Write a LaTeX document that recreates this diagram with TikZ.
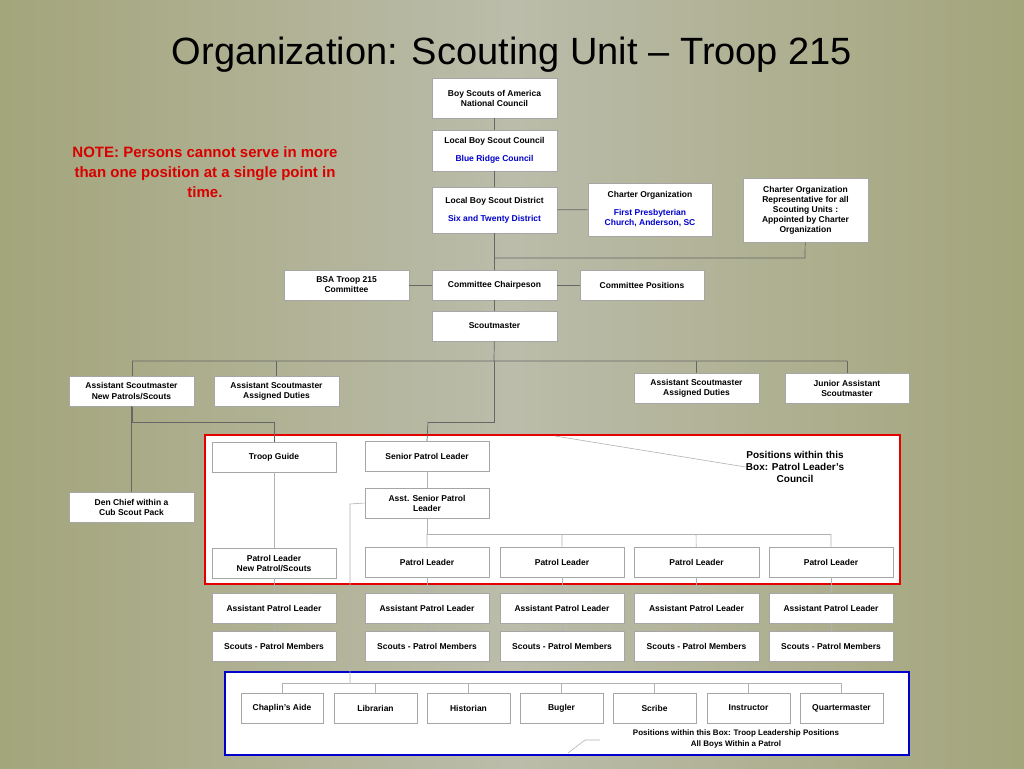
\documentclass[tikz,border=0pt]{standalone}
\usepackage{fontspec}
\setmainfont{Liberation Sans}
\begin{document}
\begin{tikzpicture}[x=1pt,y=-1pt,
  bx/.style={draw=gray!70,fill=white,line width=0.6pt,font=\fontsize{8.5}{10}\selectfont\bfseries,align=center,inner sep=0pt},
  ln/.style={draw=black!60,line width=0.7pt},
  lnw/.style={draw=gray!60,line width=0.6pt}]
\definecolor{olive1}{HTML}{A3A57B}
\definecolor{olive2}{HTML}{BBBCAA}
\definecolor{blu}{HTML}{0000CC}
\useasboundingbox (0,0) rectangle (1024,768);
\shade[left color=olive1,right color=olive1,middle color=olive2] (0,0) rectangle (1024,768);
\node[font=\fontsize{38}{44}\selectfont] (title) at (512,55) {Organization: Scouting Unit -- Troop 215};
\node[text=red!85!black,font=\fontsize{15}{20}\selectfont\bfseries,align=center] (note) at (205,172) {NOTE: Persons cannot serve in more\\than one position at a single point in\\time.};
\newcommand{\bb}[6]{\node[bx,minimum width=#4-#2,minimum height=#5-#3] (#1) at ({(#2+#4)/2},{(#3+#5)/2}) {#6};}
\coordinate (a1) at (494,258); \coordinate (a2) at (805,258);
\coordinate (s1) at (494,361); \coordinate (s2) at (132,361); \coordinate (s3) at (847,361);
\coordinate (s4) at (276,361); \coordinate (s5) at (696,361);
\coordinate (g1) at (494,422); \coordinate (g2) at (428,422);
\coordinate (h1) at (132,422); \coordinate (h2) at (274,422);
\coordinate (p1) at (427,534); \coordinate (p2) at (831,534);
\coordinate (p3) at (562,534); \coordinate (p4) at (696,534);
\coordinate (q0) at (350,504); \coordinate (q1) at (350,683);
\coordinate (t1) at (282,683); \coordinate (t2) at (841,683);
\bb{nat}{432}{78}{557}{118}{Boy Scouts of America\\National Council}
\bb{cou}{432}{130}{557}{171}{Local Boy Scout Council\\[8pt]\textcolor{blu}{Blue Ridge Council}}
\bb{dis}{432}{187}{557}{233}{Local Boy Scout District\\[8pt]\textcolor{blu}{Six and Twenty District}}
\bb{cho}{588}{183}{712}{236}{Charter Organization\\[8pt]\textcolor{blu}{First Presbyterian}\\\textcolor{blu}{Church, Anderson, SC}}
\bb{cor}{743}{178}{868}{242}{Charter Organization\\Representative for all\\Scouting Units :\\Appointed by Charter\\Organization}
\bb{com}{284}{270}{409}{300}{BSA Troop 215\\Committee}
\bb{chr}{432}{270}{557}{300}{Committee Chairpeson}
\bb{cpo}{580}{270}{704}{300}{Committee Positions}
\bb{sm}{432}{311}{557}{341}{Scoutmaster}
\draw[ln] (nat) -- (cou) (cou) -- (dis) (dis) -- (chr) (chr) -- (sm);
\draw[ln] (dis) -- (cho);
\draw[ln] (cor) -- (a2) -- (a1);
\draw[ln] (com) -- (chr) -- (cpo);
\draw[ln] (sm) -- (s1) (s2) -- (s3);
\draw[ln] (s1) -- (g1) -- (g2);
\draw[ln] (s2) -- (h1) -- (h2);
\draw[ln] (s5) -- (696,373) (s3) -- (847,373) (s4) -- (276,376);
\node[draw=red!90!black,line width=1.2pt,fill=white,minimum width=695,minimum height=149,inner sep=0pt] (redbox) at (552.5,509.5) {};
\node[bx,draw=none,fill=none,font=\fontsize{10}{12}\selectfont\bfseries] (plc) at (795,467) {Positions within this\\Box: Patrol Leader's\\Council};
\coordinate (rc) at (555,436);
\draw[lnw] (rc) -- (plc.west);
\node[draw=blu,line width=1.2pt,fill=white,minimum width=684,minimum height=83,inner sep=0pt] (bluebox) at (567,713.5) {};
\node[bx,draw=none,fill=none,font=\fontsize{8}{11}\selectfont\bfseries] (tlp) at (736,739) {Positions within this Box: Troop Leadership Positions\\All Boys Within a Patrol};
\coordinate (bc1) at (568,753); \coordinate (bc2) at (585,740); \coordinate (bc3) at (600,740);
\draw[lnw] (bc1) -- (bc2) -- (bc3);
\bb{asm1}{69}{376}{194}{406}{Assistant Scoutmaster\\New Patrols/Scouts}
\bb{asm2}{214}{376}{339}{406}{Assistant Scoutmaster\\Assigned Duties}
\bb{asm3}{634}{373}{759}{403}{Assistant Scoutmaster\\Assigned Duties}
\bb{jasm}{785}{373}{909}{403}{Junior Assistant\\Scoutmaster}
\bb{den}{69}{492}{194}{522}{Den Chief within a\\Cub Scout Pack}
\draw[ln] (asm1) -- (den);
\draw[ln] (h2) -- (274,442);
\draw[ln] (g2) -- (427,441);
\bb{tg}{212}{442}{336}{472}{Troop Guide}
\bb{spl}{365}{441}{489}{471}{Senior Patrol Leader}
\bb{aspl}{365}{488}{489}{518}{Asst. Senior Patrol\\Leader}
\bb{pl0}{212}{548}{336}{578}{Patrol Leader\\New Patrol/Scouts}
\bb{pl1}{365}{547}{489}{577}{Patrol Leader}
\bb{pl2}{500}{547}{624}{577}{Patrol Leader}
\bb{pl3}{634}{547}{759}{577}{Patrol Leader}
\bb{pl4}{769}{547}{893}{577}{Patrol Leader}
\foreach \i/\a/\b in {0/212/336,1/365/489,2/500/624,3/634/759,4/769/893}{
  \bb{apl\i}{\a}{593}{\b}{623}{Assistant Patrol Leader}
  \bb{sc\i}{\a}{631}{\b}{661}{Scouts - Patrol Members}
}
\draw[lnw] (tg) -- (pl0) (spl) -- (aspl);
\draw[lnw] (aspl) -- (p1) -- (p2);
\draw[lnw] (p1) -- (pl1) (p3) -- (pl2) (p4) -- (pl3) (p2) -- (pl4);
\foreach \i in {0,...,4}{\draw[lnw] (pl\i) -- (apl\i) (apl\i) -- (sc\i);}
\draw[lnw] (aspl.west) -- (q0) -- (q1);
\draw[lnw] (t1) -- (t2);
\foreach \n/\a/\b/\t in {cha/241/323/Chaplin's Aide,lib/334/417/Librarian,his/427/510/Historian,bug/520/603/Bugler,scr/613/696/Scribe,ins/707/790/Instructor,qm/800/883/Quartermaster}{
  \bb{\n}{\a}{693}{\b}{723}{\t}
  \draw[lnw] ({(\a+\b)/2},683) -- (\n);
}
\end{tikzpicture}
\end{document}
